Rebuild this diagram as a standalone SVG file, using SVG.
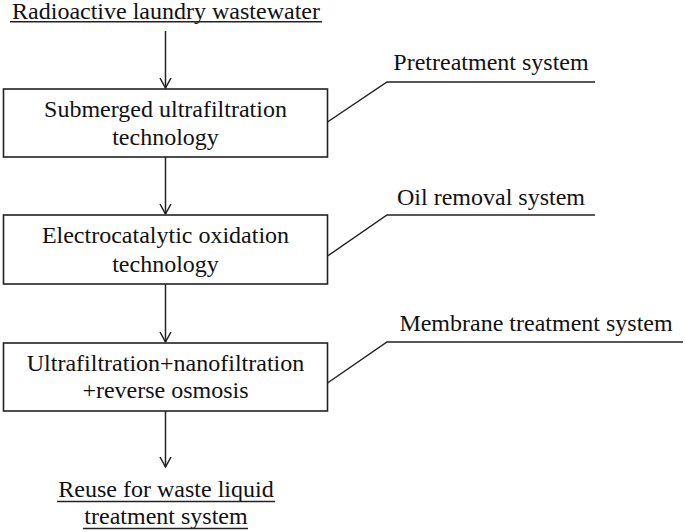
<svg xmlns="http://www.w3.org/2000/svg" width="685" height="532" viewBox="0 0 685 532">
<style>
text{font-family:"Liberation Serif","Times New Roman",serif;font-size:24px;fill:#111;}
.c{text-anchor:middle;}
.box{fill:#fff;stroke:#222;stroke-width:1.6;}
.ln{fill:none;stroke:#222;stroke-width:1.5;}
</style>
<defs>
<marker id="ah" markerWidth="14" markerHeight="14" refX="10" refY="6" orient="auto" markerUnits="userSpaceOnUse">
<path d="M0,0.5 L10,6 L0,11.5" fill="none" stroke="#222" stroke-width="1.5"/>
</marker>
</defs>
<rect width="685" height="532" fill="#fff"/>
<g id="source">
<text class="c" x="166" y="18.5">Radioactive laundry wastewater</text>
<line class="ln" x1="10" y1="21.8" x2="322" y2="21.8" stroke-width="1.3"/>
</g>
<g id="box1">
<rect class="box" x="3.5" y="89" width="324" height="68"/>
<text class="c" x="165.5" y="117">Submerged ultrafiltration</text>
<text class="c" x="165.5" y="145">technology</text>
</g>
<g id="box2">
<rect class="box" x="3.5" y="215" width="324" height="69"/>
<text class="c" x="165.5" y="243">Electrocatalytic oxidation</text>
<text class="c" x="165.5" y="272">technology</text>
</g>
<g id="box3">
<rect class="box" x="3.5" y="343" width="324" height="68"/>
<text class="c" x="165.5" y="371">Ultrafiltration+nanofiltration</text>
<text class="c" x="165.5" y="398">+reverse osmosis</text>
</g>
<g id="target">
<text class="c" x="166" y="497">Reuse for waste liquid</text>
<line class="ln" x1="57" y1="501.5" x2="275" y2="501.5" stroke-width="1.3"/>
<text class="c" x="166" y="524">treatment system</text>
<line class="ln" x1="83" y1="528.5" x2="248" y2="528.5" stroke-width="1.3"/>
</g>
<g id="label1">
<text class="c" x="491" y="70">Pretreatment system</text>
</g>
<g id="label2">
<text class="c" x="491" y="205">Oil removal system</text>
</g>
<g id="label3">
<text class="c" x="536" y="331">Membrane treatment system</text>
</g>
<g id="connectors">
<line class="ln" x1="165.5" y1="31" x2="165.5" y2="88" marker-end="url(#ah)"/>
<line class="ln" x1="165.5" y1="157" x2="165.5" y2="214" marker-end="url(#ah)"/>
<line class="ln" x1="165.5" y1="284" x2="165.5" y2="342" marker-end="url(#ah)"/>
<line class="ln" x1="165.5" y1="411" x2="165.5" y2="467" marker-end="url(#ah)"/>
<polyline class="ln" points="327.5,122 387,82 595,82"/>
<polyline class="ln" points="327.5,256 387,215 595,215"/>
<polyline class="ln" points="327.5,383 387,342 683,342"/>
</g>
</svg>
